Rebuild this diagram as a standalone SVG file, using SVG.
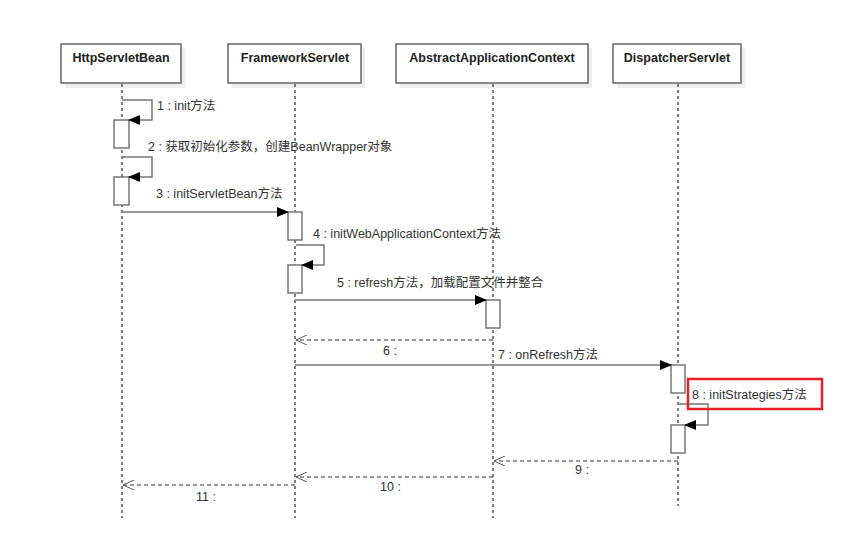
<svg xmlns="http://www.w3.org/2000/svg" width="843" height="550" viewBox="0 0 843 550">
<style>
.hd{fill:#fff;stroke:#666;stroke-width:1.5}
.sh{fill:#eee}
.ht{font:bold 12.5px "Liberation Sans",Arial,sans-serif;fill:#222}
.ll{stroke:#000;stroke-dasharray:3,3;stroke-width:1}
.act{fill:#fff;stroke:#777;stroke-width:1.5}
.m{fill:none;stroke:#777;stroke-width:1.5}
.r{fill:none;stroke:#777;stroke-width:1.5;stroke-dasharray:4,3}
.t{font:12.5px "Liberation Sans","Noto Sans CJK SC",sans-serif;fill:#333}
</style>
<defs>
<marker id="f" markerWidth="12" markerHeight="10" refX="11" refY="5" orient="auto" markerUnits="userSpaceOnUse"><path d="M0,0L12,5L0,10z" fill="#000"/></marker>
<marker id="o" markerWidth="12" markerHeight="10" refX="11" refY="5" orient="auto" markerUnits="userSpaceOnUse"><path d="M0,0L11,5L0,10" fill="none" stroke="#555" stroke-width="1"/></marker>
</defs>
<rect width="843" height="550" fill="#fff"/>
<g id="HttpServletBean"><rect class="sh" x="65" y="48" width="120" height="40"/><rect class="hd" x="61" y="44" width="120" height="39"/><text class="ht" x="121" y="62" text-anchor="middle">HttpServletBean</text><line class="ll" x1="122" y1="84" x2="122" y2="518"/></g>
<g id="FrameworkServlet"><rect class="sh" x="232" y="48" width="133" height="40"/><rect class="hd" x="228" y="44" width="133" height="39"/><text class="ht" x="295" y="62" text-anchor="middle">FrameworkServlet</text><line class="ll" x1="295" y1="84" x2="295" y2="518"/></g>
<g id="AbstractApplicationContext"><rect class="sh" x="400" y="48" width="192" height="40"/><rect class="hd" x="396" y="44" width="192" height="39"/><text class="ht" x="492" y="62" text-anchor="middle">AbstractApplicationContext</text><line class="ll" x1="493" y1="84" x2="493" y2="518"/></g>
<g id="DispatcherServlet"><rect class="sh" x="617" y="48" width="128" height="40"/><rect class="hd" x="613" y="44" width="128" height="39"/><text class="ht" x="677" y="62" text-anchor="middle">DispatcherServlet</text><line class="ll" x1="678" y1="84" x2="678" y2="506"/></g>
<g id="activations">
<rect class="act" x="114" y="120" width="15" height="28"/>
<rect class="act" x="114" y="177" width="15" height="28"/>
<rect class="act" x="288" y="212" width="14" height="28"/>
<rect class="act" x="288" y="265" width="14" height="28"/>
<rect class="act" x="486" y="300" width="14" height="28"/>
<rect class="act" x="671" y="365" width="14" height="28"/>
<rect class="act" x="671" y="425" width="14" height="28"/>
</g>
<g id="connectors">
<path class="m" d="M122,100H152V120H129" marker-end="url(#f)"/>
<path class="m" d="M122,157H152V177H129" marker-end="url(#f)"/>
<path class="m" d="M122,212H288" marker-end="url(#f)"/>
<path class="m" d="M296,245H324V265H302" marker-end="url(#f)"/>
<path class="m" d="M295,300H486" marker-end="url(#f)"/>
<path class="r" d="M493,340H296" marker-end="url(#o)"/>
<path class="m" d="M295,365H671" marker-end="url(#f)"/>
<path class="m" d="M678,404H708V425H685" marker-end="url(#f)"/>
<path class="r" d="M678,461H494" marker-end="url(#o)"/>
<path class="r" d="M493,477H296" marker-end="url(#o)"/>
<path class="r" d="M295,485H123" marker-end="url(#o)"/>
</g>
<g id="labels">
<text class="t" x="157" y="110">1 : init方法</text>
<text class="t" x="148" y="151">2 : 获取初始化参数，创建BeanWrapper对象</text>
<text class="t" x="156" y="198">3 : initServletBean方法</text>
<text class="t" x="313" y="238">4 : initWebApplicationContext方法</text>
<text class="t" x="337" y="287">5 : refresh方法，加载配置文件并整合</text>
<text class="t" x="383" y="355">6 :</text>
<text class="t" x="498" y="359">7 : onRefresh方法</text>
<rect x="688" y="379" width="134" height="30" fill="none" stroke="#e8202a" stroke-width="2.5"/>
<text class="t" x="692" y="399">8 : initStrategies方法</text>
<text class="t" x="575" y="474">9 :</text>
<text class="t" x="380" y="491">10 :</text>
<text class="t" x="196" y="501">11 :</text>
</g>
</svg>
